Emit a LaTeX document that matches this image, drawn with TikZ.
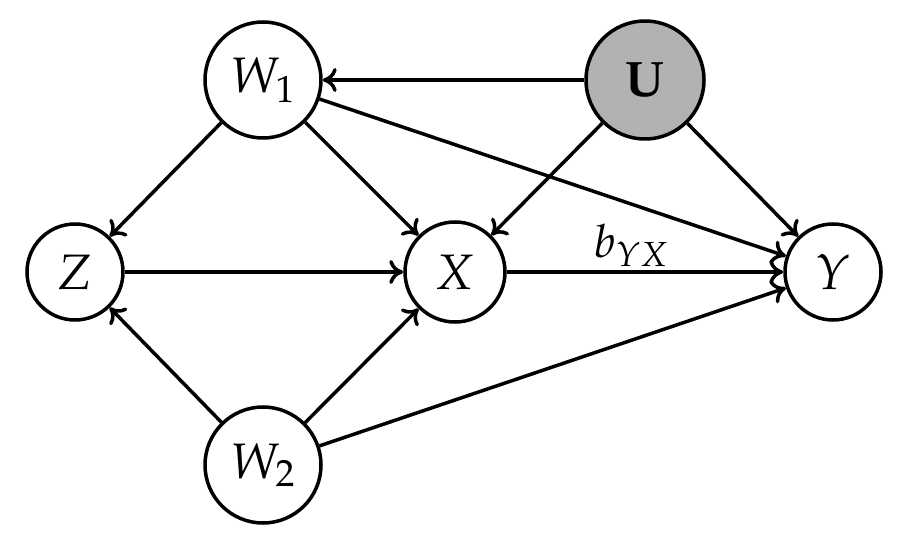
\documentclass[tikz,border=0pt]{standalone}
\usepackage{mathpazo}
\usetikzlibrary{arrows.meta}
\begin{document}
\begin{tikzpicture}[x=1bp,y=-1bp,
  v/.style={circle,draw,line width=3.5bp,inner sep=0pt,font=\fontsize{50}{56}\selectfont},
  e/.style={line width=3.5bp,-{Computer Modern Rightarrow[length=14bp,width=24bp]}}]
\useasboundingbox (0,0) rectangle (902,548);
\node[v,minimum size=116bp] (W1) at (263,80) {$W_1$};
\node[v,minimum size=118bp,fill=black!30] (U) at (645,80) {$\mathbf{U}$};
\node[v,minimum size=96bp] (Z) at (75,272) {$Z$};
\node[v,minimum size=100bp] (X) at (455,272) {$X$};
\node[v,minimum size=96bp] (Y) at (833,272) {$Y$};
\node[v,minimum size=116bp] (W2) at (263,465) {$W_2$};
\draw[e] (U) -- (W1);
\draw[e] (U) -- (X);
\draw[e] (U) -- (Y);
\draw[e] (W1) -- (Z);
\draw[e] (W1) -- (X);
\draw[e] (W1) -- (Y);
\draw[e] (Z) -- (X);
\draw[e] (X) -- node[above,font=\fontsize{46}{50}\selectfont,pos=0.45] (lb) {$b_{YX}$} (Y);
\draw[e] (W2) -- (Z);
\draw[e] (W2) -- (X);
\draw[e] (W2) -- (Y);
\end{tikzpicture}
\end{document}
